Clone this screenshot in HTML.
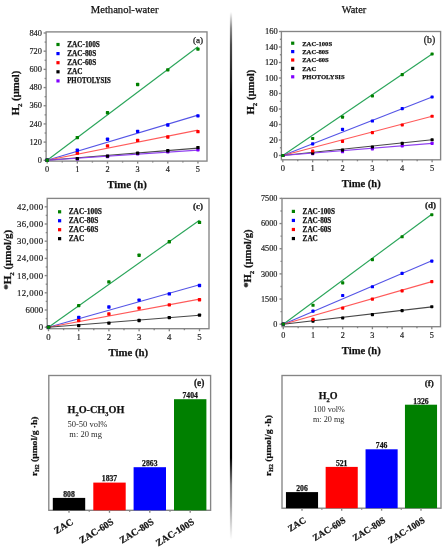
<!DOCTYPE html>
<html><head><meta charset="utf-8"><title>Figure</title>
<style>html,body{margin:0;padding:0;background:#fff;}body{width:447px;height:550px;overflow:hidden;}svg{display:block;filter:blur(0.45px);}text{font-family:"Liberation Serif",serif;stroke:#1a1a1a;stroke-width:0.25px;}</style>
</head><body>
<svg width="447" height="550" viewBox="0 0 447 550">
<defs><linearGradient id="vg" x1="0" y1="0" x2="0" y2="1"><stop offset="0" stop-color="#000" stop-opacity="0"/><stop offset="0.03" stop-color="#000" stop-opacity="0.45"/><stop offset="0.062" stop-color="#000" stop-opacity="0.7"/><stop offset="0.165" stop-color="#000" stop-opacity="1"/><stop offset="0.838" stop-color="#000" stop-opacity="1"/><stop offset="0.889" stop-color="#000" stop-opacity="0.5"/><stop offset="0.929" stop-color="#000" stop-opacity="0.35"/><stop offset="0.992" stop-color="#000" stop-opacity="0"/></linearGradient></defs>
<rect width="447" height="550" fill="#fff"/>
<text x="124.6" y="13.4" font-size="10.6" text-anchor="middle" fill="#111">Methanol-water</text>
<text x="354" y="12.9" font-size="10.4" text-anchor="middle" fill="#111">Water</text>
<rect x="229.9" y="12" width="2.2" height="532" fill="url(#vg)"/>
<rect x="46.1" y="31.9" width="160.9" height="129.2" fill="none" stroke="#858585" stroke-width="1.35"/>
<line x1="47.2" y1="161.1" x2="47.2" y2="163.6" stroke="#858585" stroke-width="1.35" />
<text x="47.2" y="172.3" font-size="8.3" text-anchor="middle" fill="#222" style="stroke-width:0.18px">0</text>
<line x1="62.28" y1="161.1" x2="62.28" y2="162.6" stroke="#858585" stroke-width="1.35" />
<line x1="77.35" y1="161.1" x2="77.35" y2="163.6" stroke="#858585" stroke-width="1.35" />
<text x="77.35" y="172.3" font-size="8.3" text-anchor="middle" fill="#222" style="stroke-width:0.18px">1</text>
<line x1="92.42" y1="161.1" x2="92.42" y2="162.6" stroke="#858585" stroke-width="1.35" />
<line x1="107.5" y1="161.1" x2="107.5" y2="163.6" stroke="#858585" stroke-width="1.35" />
<text x="107.5" y="172.3" font-size="8.3" text-anchor="middle" fill="#222" style="stroke-width:0.18px">2</text>
<line x1="122.58" y1="161.1" x2="122.58" y2="162.6" stroke="#858585" stroke-width="1.35" />
<line x1="137.65" y1="161.1" x2="137.65" y2="163.6" stroke="#858585" stroke-width="1.35" />
<text x="137.65" y="172.3" font-size="8.3" text-anchor="middle" fill="#222" style="stroke-width:0.18px">3</text>
<line x1="152.72" y1="161.1" x2="152.72" y2="162.6" stroke="#858585" stroke-width="1.35" />
<line x1="167.8" y1="161.1" x2="167.8" y2="163.6" stroke="#858585" stroke-width="1.35" />
<text x="167.8" y="172.3" font-size="8.3" text-anchor="middle" fill="#222" style="stroke-width:0.18px">4</text>
<line x1="182.88" y1="161.1" x2="182.88" y2="162.6" stroke="#858585" stroke-width="1.35" />
<line x1="197.95" y1="161.1" x2="197.95" y2="163.6" stroke="#858585" stroke-width="1.35" />
<text x="197.95" y="172.3" font-size="8.3" text-anchor="middle" fill="#222" style="stroke-width:0.18px">5</text>
<line x1="43.6" y1="160.3" x2="46.1" y2="160.3" stroke="#858585" stroke-width="1.35" />
<text x="41.9" y="163.04" font-size="8.3" text-anchor="end" fill="#222"  style="stroke-width:0.18px">0</text>
<line x1="43.6" y1="142.11" x2="46.1" y2="142.11" stroke="#858585" stroke-width="1.35" />
<text x="41.9" y="144.85" font-size="8.3" text-anchor="end" fill="#222"  style="stroke-width:0.18px">120</text>
<line x1="43.6" y1="123.93" x2="46.1" y2="123.93" stroke="#858585" stroke-width="1.35" />
<text x="41.9" y="126.67" font-size="8.3" text-anchor="end" fill="#222"  style="stroke-width:0.18px">240</text>
<line x1="43.6" y1="105.74" x2="46.1" y2="105.74" stroke="#858585" stroke-width="1.35" />
<text x="41.9" y="108.48" font-size="8.3" text-anchor="end" fill="#222"  style="stroke-width:0.18px">360</text>
<line x1="43.6" y1="87.56" x2="46.1" y2="87.56" stroke="#858585" stroke-width="1.35" />
<text x="41.9" y="90.3" font-size="8.3" text-anchor="end" fill="#222"  style="stroke-width:0.18px">480</text>
<line x1="43.6" y1="69.37" x2="46.1" y2="69.37" stroke="#858585" stroke-width="1.35" />
<text x="41.9" y="72.11" font-size="8.3" text-anchor="end" fill="#222"  style="stroke-width:0.18px">600</text>
<line x1="43.6" y1="51.18" x2="46.1" y2="51.18" stroke="#858585" stroke-width="1.35" />
<text x="41.9" y="53.92" font-size="8.3" text-anchor="end" fill="#222"  style="stroke-width:0.18px">720</text>
<line x1="43.6" y1="33" x2="46.1" y2="33" stroke="#858585" stroke-width="1.35" />
<text x="41.9" y="35.74" font-size="8.3" text-anchor="end" fill="#222"  style="stroke-width:0.18px">840</text>
<line x1="44.6" y1="151.21" x2="46.1" y2="151.21" stroke="#858585" stroke-width="1.35" />
<line x1="44.6" y1="133.02" x2="46.1" y2="133.02" stroke="#858585" stroke-width="1.35" />
<line x1="44.6" y1="114.84" x2="46.1" y2="114.84" stroke="#858585" stroke-width="1.35" />
<line x1="44.6" y1="96.65" x2="46.1" y2="96.65" stroke="#858585" stroke-width="1.35" />
<line x1="44.6" y1="78.46" x2="46.1" y2="78.46" stroke="#858585" stroke-width="1.35" />
<line x1="44.6" y1="60.28" x2="46.1" y2="60.28" stroke="#858585" stroke-width="1.35" />
<line x1="44.6" y1="42.09" x2="46.1" y2="42.09" stroke="#858585" stroke-width="1.35" />
<line x1="47.2" y1="160.3" x2="197.95" y2="46.79" stroke="#2aa55a" stroke-width="1.15" />
<line x1="47.2" y1="160.3" x2="197.95" y2="115.14" stroke="#5555e6" stroke-width="1.15" />
<line x1="47.2" y1="160.3" x2="197.95" y2="130.14" stroke="#ff5a5a" stroke-width="1.15" />
<line x1="47.2" y1="160.3" x2="197.95" y2="148.18" stroke="#484848" stroke-width="1.15" />
<line x1="47.2" y1="160.3" x2="197.95" y2="150.15" stroke="#9040f0" stroke-width="1.15" />
<rect x="45.53" y="158.62" width="3.35" height="3.35" fill="#8000ff" rx="0.7"/>
<rect x="75.67" y="157.26" width="3.35" height="3.35" fill="#8000ff" rx="0.7"/>
<rect x="105.83" y="154.84" width="3.35" height="3.35" fill="#8000ff" rx="0.7"/>
<rect x="135.97" y="152.11" width="3.35" height="3.35" fill="#8000ff" rx="0.7"/>
<rect x="166.12" y="150.14" width="3.35" height="3.35" fill="#8000ff" rx="0.7"/>
<rect x="196.27" y="148.17" width="3.35" height="3.35" fill="#8000ff" rx="0.7"/>
<rect x="45.53" y="158.62" width="3.35" height="3.35" fill="#000000" rx="0.7"/>
<rect x="75.67" y="156.96" width="3.35" height="3.35" fill="#000000" rx="0.7"/>
<rect x="105.83" y="154.38" width="3.35" height="3.35" fill="#000000" rx="0.7"/>
<rect x="135.97" y="151.5" width="3.35" height="3.35" fill="#000000" rx="0.7"/>
<rect x="166.12" y="149.08" width="3.35" height="3.35" fill="#000000" rx="0.7"/>
<rect x="196.27" y="145.89" width="3.35" height="3.35" fill="#000000" rx="0.7"/>
<rect x="45.53" y="158.62" width="3.35" height="3.35" fill="#ff0000" rx="0.7"/>
<rect x="75.67" y="151.5" width="3.35" height="3.35" fill="#ff0000" rx="0.7"/>
<rect x="105.83" y="144.23" width="3.35" height="3.35" fill="#ff0000" rx="0.7"/>
<rect x="135.97" y="138.77" width="3.35" height="3.35" fill="#ff0000" rx="0.7"/>
<rect x="166.12" y="135.29" width="3.35" height="3.35" fill="#ff0000" rx="0.7"/>
<rect x="196.27" y="129.98" width="3.35" height="3.35" fill="#ff0000" rx="0.7"/>
<rect x="45.53" y="158.62" width="3.35" height="3.35" fill="#0000ff" rx="0.7"/>
<rect x="75.67" y="148.62" width="3.35" height="3.35" fill="#0000ff" rx="0.7"/>
<rect x="105.83" y="137.56" width="3.35" height="3.35" fill="#0000ff" rx="0.7"/>
<rect x="135.97" y="129.68" width="3.35" height="3.35" fill="#0000ff" rx="0.7"/>
<rect x="166.12" y="123.31" width="3.35" height="3.35" fill="#0000ff" rx="0.7"/>
<rect x="196.27" y="114.22" width="3.35" height="3.35" fill="#0000ff" rx="0.7"/>
<rect x="45.53" y="158.62" width="3.35" height="3.35" fill="#008000" rx="0.7"/>
<rect x="75.67" y="135.89" width="3.35" height="3.35" fill="#008000" rx="0.7"/>
<rect x="105.83" y="111.04" width="3.35" height="3.35" fill="#008000" rx="0.7"/>
<rect x="135.97" y="82.85" width="3.35" height="3.35" fill="#008000" rx="0.7"/>
<rect x="166.12" y="68.15" width="3.35" height="3.35" fill="#008000" rx="0.7"/>
<rect x="196.27" y="47.39" width="3.35" height="3.35" fill="#008000" rx="0.7"/>
<rect x="56.4" y="42.9" width="3.2" height="3.2" fill="#008000" />
<text x="67.2" y="47.04" font-size="7.25" font-weight="bold" text-anchor="start" fill="#111" >ZAC-100S</text>
<rect x="56.4" y="52" width="3.2" height="3.2" fill="#0000ff" />
<text x="67.2" y="56.14" font-size="7.25" font-weight="bold" text-anchor="start" fill="#111" >ZAC-80S</text>
<rect x="56.4" y="61.1" width="3.2" height="3.2" fill="#ff0000" />
<text x="67.2" y="65.24" font-size="7.25" font-weight="bold" text-anchor="start" fill="#111" >ZAC-60S</text>
<rect x="56.4" y="70.2" width="3.2" height="3.2" fill="#000000" />
<text x="67.2" y="74.34" font-size="7.25" font-weight="bold" text-anchor="start" fill="#111" >ZAC</text>
<rect x="56.4" y="79.3" width="3.2" height="3.2" fill="#8000ff" />
<text x="67.2" y="83.44" font-size="7.25" font-weight="bold" text-anchor="start" fill="#111" textLength="43.6" lengthAdjust="spacingAndGlyphs">PHOTOLYSIS</text>
<text x="198.1" y="42.89" font-size="9.2" text-anchor="middle" fill="#111" >(a)</text>
<text x="127" y="188.3" font-size="10.8" font-weight="bold" text-anchor="middle" fill="#111" >Time (h)</text>
<text transform="translate(19,93) rotate(-90)" font-size="10.2" font-weight="bold" text-anchor="middle" fill="#111" textLength="44.5" lengthAdjust="spacingAndGlyphs">H<tspan font-size="6.6" dy="2.8">2</tspan><tspan dy="-2.8"> (μmol)</tspan></text>
<rect x="281.4" y="31.5" width="159.2" height="128.3" fill="none" stroke="#858585" stroke-width="1.35"/>
<line x1="282.8" y1="159.8" x2="282.8" y2="162.3" stroke="#858585" stroke-width="1.35" />
<text x="282.8" y="171.2" font-size="8.5" text-anchor="middle" fill="#222" style="stroke-width:0.18px">0</text>
<line x1="297.73" y1="159.8" x2="297.73" y2="161.3" stroke="#858585" stroke-width="1.35" />
<line x1="312.66" y1="159.8" x2="312.66" y2="162.3" stroke="#858585" stroke-width="1.35" />
<text x="312.66" y="171.2" font-size="8.5" text-anchor="middle" fill="#222" style="stroke-width:0.18px">1</text>
<line x1="327.59" y1="159.8" x2="327.59" y2="161.3" stroke="#858585" stroke-width="1.35" />
<line x1="342.52" y1="159.8" x2="342.52" y2="162.3" stroke="#858585" stroke-width="1.35" />
<text x="342.52" y="171.2" font-size="8.5" text-anchor="middle" fill="#222" style="stroke-width:0.18px">2</text>
<line x1="357.45" y1="159.8" x2="357.45" y2="161.3" stroke="#858585" stroke-width="1.35" />
<line x1="372.38" y1="159.8" x2="372.38" y2="162.3" stroke="#858585" stroke-width="1.35" />
<text x="372.38" y="171.2" font-size="8.5" text-anchor="middle" fill="#222" style="stroke-width:0.18px">3</text>
<line x1="387.31" y1="159.8" x2="387.31" y2="161.3" stroke="#858585" stroke-width="1.35" />
<line x1="402.24" y1="159.8" x2="402.24" y2="162.3" stroke="#858585" stroke-width="1.35" />
<text x="402.24" y="171.2" font-size="8.5" text-anchor="middle" fill="#222" style="stroke-width:0.18px">4</text>
<line x1="417.17" y1="159.8" x2="417.17" y2="161.3" stroke="#858585" stroke-width="1.35" />
<line x1="432.1" y1="159.8" x2="432.1" y2="162.3" stroke="#858585" stroke-width="1.35" />
<text x="432.1" y="171.2" font-size="8.5" text-anchor="middle" fill="#222" style="stroke-width:0.18px">5</text>
<line x1="278.9" y1="155.5" x2="281.4" y2="155.5" stroke="#858585" stroke-width="1.35" />
<text x="277.7" y="158.31" font-size="8.5" text-anchor="end" fill="#222"  style="stroke-width:0.18px">0</text>
<line x1="278.9" y1="140" x2="281.4" y2="140" stroke="#858585" stroke-width="1.35" />
<text x="277.7" y="142.81" font-size="8.5" text-anchor="end" fill="#222"  style="stroke-width:0.18px">20</text>
<line x1="278.9" y1="124.5" x2="281.4" y2="124.5" stroke="#858585" stroke-width="1.35" />
<text x="277.7" y="127.31" font-size="8.5" text-anchor="end" fill="#222"  style="stroke-width:0.18px">40</text>
<line x1="278.9" y1="109" x2="281.4" y2="109" stroke="#858585" stroke-width="1.35" />
<text x="277.7" y="111.81" font-size="8.5" text-anchor="end" fill="#222"  style="stroke-width:0.18px">60</text>
<line x1="278.9" y1="93.5" x2="281.4" y2="93.5" stroke="#858585" stroke-width="1.35" />
<text x="277.7" y="96.31" font-size="8.5" text-anchor="end" fill="#222"  style="stroke-width:0.18px">80</text>
<line x1="278.9" y1="78" x2="281.4" y2="78" stroke="#858585" stroke-width="1.35" />
<text x="277.7" y="80.81" font-size="8.5" text-anchor="end" fill="#222"  style="stroke-width:0.18px">100</text>
<line x1="278.9" y1="62.5" x2="281.4" y2="62.5" stroke="#858585" stroke-width="1.35" />
<text x="277.7" y="65.31" font-size="8.5" text-anchor="end" fill="#222"  style="stroke-width:0.18px">120</text>
<line x1="278.9" y1="47" x2="281.4" y2="47" stroke="#858585" stroke-width="1.35" />
<text x="277.7" y="49.8" font-size="8.5" text-anchor="end" fill="#222"  style="stroke-width:0.18px">140</text>
<line x1="278.9" y1="31.5" x2="281.4" y2="31.5" stroke="#858585" stroke-width="1.35" />
<text x="277.7" y="34.3" font-size="8.5" text-anchor="end" fill="#222"  style="stroke-width:0.18px">160</text>
<line x1="279.9" y1="147.75" x2="281.4" y2="147.75" stroke="#858585" stroke-width="1.35" />
<line x1="279.9" y1="132.25" x2="281.4" y2="132.25" stroke="#858585" stroke-width="1.35" />
<line x1="279.9" y1="116.75" x2="281.4" y2="116.75" stroke="#858585" stroke-width="1.35" />
<line x1="279.9" y1="101.25" x2="281.4" y2="101.25" stroke="#858585" stroke-width="1.35" />
<line x1="279.9" y1="85.75" x2="281.4" y2="85.75" stroke="#858585" stroke-width="1.35" />
<line x1="279.9" y1="70.25" x2="281.4" y2="70.25" stroke="#858585" stroke-width="1.35" />
<line x1="279.9" y1="54.75" x2="281.4" y2="54.75" stroke="#858585" stroke-width="1.35" />
<line x1="279.9" y1="39.25" x2="281.4" y2="39.25" stroke="#858585" stroke-width="1.35" />
<line x1="282.8" y1="155.5" x2="432.1" y2="53.97" stroke="#2aa55a" stroke-width="1.15" />
<line x1="282.8" y1="155.5" x2="432.1" y2="96.99" stroke="#5555e6" stroke-width="1.15" />
<line x1="282.8" y1="155.5" x2="432.1" y2="116.28" stroke="#ff5a5a" stroke-width="1.15" />
<line x1="282.8" y1="155.5" x2="432.1" y2="139.77" stroke="#484848" stroke-width="1.15" />
<line x1="282.8" y1="155.5" x2="432.1" y2="143.41" stroke="#9040f0" stroke-width="1.15" />
<rect x="281.23" y="153.93" width="3.15" height="3.15" fill="#8000ff" rx="0.7"/>
<rect x="311.09" y="151.99" width="3.15" height="3.15" fill="#8000ff" rx="0.7"/>
<rect x="340.94" y="150.21" width="3.15" height="3.15" fill="#8000ff" rx="0.7"/>
<rect x="370.81" y="147.34" width="3.15" height="3.15" fill="#8000ff" rx="0.7"/>
<rect x="400.67" y="144.39" width="3.15" height="3.15" fill="#8000ff" rx="0.7"/>
<rect x="430.53" y="141.84" width="3.15" height="3.15" fill="#8000ff" rx="0.7"/>
<rect x="281.23" y="153.93" width="3.15" height="3.15" fill="#000000" rx="0.7"/>
<rect x="311.09" y="151.6" width="3.15" height="3.15" fill="#000000" rx="0.7"/>
<rect x="340.94" y="148.5" width="3.15" height="3.15" fill="#000000" rx="0.7"/>
<rect x="370.81" y="145.4" width="3.15" height="3.15" fill="#000000" rx="0.7"/>
<rect x="400.67" y="141.84" width="3.15" height="3.15" fill="#000000" rx="0.7"/>
<rect x="430.53" y="138.19" width="3.15" height="3.15" fill="#000000" rx="0.7"/>
<rect x="281.23" y="153.93" width="3.15" height="3.15" fill="#ff0000" rx="0.7"/>
<rect x="311.09" y="149.43" width="3.15" height="3.15" fill="#ff0000" rx="0.7"/>
<rect x="340.94" y="139.74" width="3.15" height="3.15" fill="#ff0000" rx="0.7"/>
<rect x="370.81" y="131.06" width="3.15" height="3.15" fill="#ff0000" rx="0.7"/>
<rect x="400.67" y="123.39" width="3.15" height="3.15" fill="#ff0000" rx="0.7"/>
<rect x="430.53" y="114.71" width="3.15" height="3.15" fill="#ff0000" rx="0.7"/>
<rect x="281.23" y="153.93" width="3.15" height="3.15" fill="#0000ff" rx="0.7"/>
<rect x="311.09" y="142.3" width="3.15" height="3.15" fill="#0000ff" rx="0.7"/>
<rect x="340.94" y="127.73" width="3.15" height="3.15" fill="#0000ff" rx="0.7"/>
<rect x="370.81" y="119.44" width="3.15" height="3.15" fill="#0000ff" rx="0.7"/>
<rect x="400.67" y="107.11" width="3.15" height="3.15" fill="#0000ff" rx="0.7"/>
<rect x="430.53" y="95.41" width="3.15" height="3.15" fill="#0000ff" rx="0.7"/>
<rect x="281.23" y="153.93" width="3.15" height="3.15" fill="#008000" rx="0.7"/>
<rect x="311.09" y="136.88" width="3.15" height="3.15" fill="#008000" rx="0.7"/>
<rect x="340.94" y="115.56" width="3.15" height="3.15" fill="#008000" rx="0.7"/>
<rect x="370.81" y="94.41" width="3.15" height="3.15" fill="#008000" rx="0.7"/>
<rect x="400.67" y="73.01" width="3.15" height="3.15" fill="#008000" rx="0.7"/>
<rect x="430.53" y="52.4" width="3.15" height="3.15" fill="#008000" rx="0.7"/>
<rect x="291.1" y="41.6" width="3.2" height="3.2" fill="#008000" />
<text x="302.2" y="45.53" font-size="6.65" font-weight="bold" text-anchor="start" fill="#111" >ZAC-100S</text>
<rect x="291.1" y="50" width="3.2" height="3.2" fill="#0000ff" />
<text x="302.2" y="53.93" font-size="6.65" font-weight="bold" text-anchor="start" fill="#111" >ZAC-80S</text>
<rect x="291.1" y="58.4" width="3.2" height="3.2" fill="#ff0000" />
<text x="302.2" y="62.33" font-size="6.65" font-weight="bold" text-anchor="start" fill="#111" >ZAC-60S</text>
<rect x="291.1" y="66.8" width="3.2" height="3.2" fill="#000000" />
<text x="302.2" y="70.73" font-size="6.65" font-weight="bold" text-anchor="start" fill="#111" >ZAC</text>
<rect x="291.1" y="75.2" width="3.2" height="3.2" fill="#8000ff" />
<text x="302.2" y="79.13" font-size="6.65" font-weight="bold" text-anchor="start" fill="#111" >PHOTOLYSIS</text>
<text x="429.5" y="43.32" font-size="9.7" text-anchor="middle" fill="#111" >(b)</text>
<text x="361.3" y="187.2" font-size="10.6" font-weight="bold" text-anchor="middle" fill="#111" >Time (h)</text>
<text transform="translate(253.8,92.1) rotate(-90)" font-size="10.2" font-weight="bold" text-anchor="middle" fill="#111" textLength="45" lengthAdjust="spacingAndGlyphs">H<tspan font-size="6.6" dy="2.8">2</tspan><tspan dy="-2.8"> (μmol)</tspan></text>
<rect x="47.2" y="198.4" width="161.8" height="130.3" fill="none" stroke="#858585" stroke-width="1.35"/>
<line x1="48.5" y1="328.7" x2="48.5" y2="331.2" stroke="#858585" stroke-width="1.35" />
<text x="48.5" y="340.2" font-size="8.8" text-anchor="middle" fill="#222" style="stroke-width:0.18px">0</text>
<line x1="63.6" y1="328.7" x2="63.6" y2="330.2" stroke="#858585" stroke-width="1.35" />
<line x1="78.7" y1="328.7" x2="78.7" y2="331.2" stroke="#858585" stroke-width="1.35" />
<text x="78.7" y="340.2" font-size="8.8" text-anchor="middle" fill="#222" style="stroke-width:0.18px">1</text>
<line x1="93.8" y1="328.7" x2="93.8" y2="330.2" stroke="#858585" stroke-width="1.35" />
<line x1="108.9" y1="328.7" x2="108.9" y2="331.2" stroke="#858585" stroke-width="1.35" />
<text x="108.9" y="340.2" font-size="8.8" text-anchor="middle" fill="#222" style="stroke-width:0.18px">2</text>
<line x1="124" y1="328.7" x2="124" y2="330.2" stroke="#858585" stroke-width="1.35" />
<line x1="139.1" y1="328.7" x2="139.1" y2="331.2" stroke="#858585" stroke-width="1.35" />
<text x="139.1" y="340.2" font-size="8.8" text-anchor="middle" fill="#222" style="stroke-width:0.18px">3</text>
<line x1="154.2" y1="328.7" x2="154.2" y2="330.2" stroke="#858585" stroke-width="1.35" />
<line x1="169.3" y1="328.7" x2="169.3" y2="331.2" stroke="#858585" stroke-width="1.35" />
<text x="169.3" y="340.2" font-size="8.8" text-anchor="middle" fill="#222" style="stroke-width:0.18px">4</text>
<line x1="184.4" y1="328.7" x2="184.4" y2="330.2" stroke="#858585" stroke-width="1.35" />
<line x1="199.5" y1="328.7" x2="199.5" y2="331.2" stroke="#858585" stroke-width="1.35" />
<text x="199.5" y="340.2" font-size="8.8" text-anchor="middle" fill="#222" style="stroke-width:0.18px">5</text>
<line x1="44.7" y1="327.2" x2="47.2" y2="327.2" stroke="#858585" stroke-width="1.35" />
<text x="43.1" y="330.1" font-size="8.8" text-anchor="end" fill="#222"  style="stroke-width:0.18px">0</text>
<line x1="44.7" y1="310" x2="47.2" y2="310" stroke="#858585" stroke-width="1.35" />
<text x="43.1" y="312.9" font-size="8.8" text-anchor="end" fill="#222"  style="stroke-width:0.18px">6000</text>
<line x1="44.7" y1="292.8" x2="47.2" y2="292.8" stroke="#858585" stroke-width="1.35" />
<text x="43.1" y="295.7" font-size="8.8" text-anchor="end" fill="#222"  textLength="26" lengthAdjust="spacing" style="stroke-width:0.18px">12,000</text>
<line x1="44.7" y1="275.59" x2="47.2" y2="275.59" stroke="#858585" stroke-width="1.35" />
<text x="43.1" y="278.5" font-size="8.8" text-anchor="end" fill="#222"  textLength="26" lengthAdjust="spacing" style="stroke-width:0.18px">18,000</text>
<line x1="44.7" y1="258.39" x2="47.2" y2="258.39" stroke="#858585" stroke-width="1.35" />
<text x="43.1" y="261.3" font-size="8.8" text-anchor="end" fill="#222"  textLength="26" lengthAdjust="spacing" style="stroke-width:0.18px">24,000</text>
<line x1="44.7" y1="241.19" x2="47.2" y2="241.19" stroke="#858585" stroke-width="1.35" />
<text x="43.1" y="244.09" font-size="8.8" text-anchor="end" fill="#222"  textLength="26" lengthAdjust="spacing" style="stroke-width:0.18px">30,000</text>
<line x1="44.7" y1="223.99" x2="47.2" y2="223.99" stroke="#858585" stroke-width="1.35" />
<text x="43.1" y="226.89" font-size="8.8" text-anchor="end" fill="#222"  textLength="26" lengthAdjust="spacing" style="stroke-width:0.18px">36,000</text>
<line x1="44.7" y1="206.79" x2="47.2" y2="206.79" stroke="#858585" stroke-width="1.35" />
<text x="43.1" y="209.69" font-size="8.8" text-anchor="end" fill="#222"  textLength="26" lengthAdjust="spacing" style="stroke-width:0.18px">42,000</text>
<line x1="45.7" y1="318.6" x2="47.2" y2="318.6" stroke="#858585" stroke-width="1.35" />
<line x1="45.7" y1="301.4" x2="47.2" y2="301.4" stroke="#858585" stroke-width="1.35" />
<line x1="45.7" y1="284.19" x2="47.2" y2="284.19" stroke="#858585" stroke-width="1.35" />
<line x1="45.7" y1="266.99" x2="47.2" y2="266.99" stroke="#858585" stroke-width="1.35" />
<line x1="45.7" y1="249.79" x2="47.2" y2="249.79" stroke="#858585" stroke-width="1.35" />
<line x1="45.7" y1="232.59" x2="47.2" y2="232.59" stroke="#858585" stroke-width="1.35" />
<line x1="45.7" y1="215.39" x2="47.2" y2="215.39" stroke="#858585" stroke-width="1.35" />
<line x1="48.5" y1="327.2" x2="199.5" y2="220.17" stroke="#2aa55a" stroke-width="1.15" />
<line x1="48.5" y1="327.2" x2="199.5" y2="284.77" stroke="#5555e6" stroke-width="1.15" />
<line x1="48.5" y1="327.2" x2="199.5" y2="299.1" stroke="#ff5a5a" stroke-width="1.15" />
<line x1="48.5" y1="327.2" x2="199.5" y2="315.3" stroke="#484848" stroke-width="1.15" />
<rect x="46.83" y="325.52" width="3.35" height="3.35" fill="#000000" rx="0.7"/>
<rect x="77.03" y="323.92" width="3.35" height="3.35" fill="#000000" rx="0.7"/>
<rect x="107.23" y="321.43" width="3.35" height="3.35" fill="#000000" rx="0.7"/>
<rect x="137.42" y="318.82" width="3.35" height="3.35" fill="#000000" rx="0.7"/>
<rect x="167.62" y="315.92" width="3.35" height="3.35" fill="#000000" rx="0.7"/>
<rect x="197.82" y="313.43" width="3.35" height="3.35" fill="#000000" rx="0.7"/>
<rect x="46.83" y="325.52" width="3.35" height="3.35" fill="#ff0000" rx="0.7"/>
<rect x="77.03" y="318.82" width="3.35" height="3.35" fill="#ff0000" rx="0.7"/>
<rect x="107.23" y="312.34" width="3.35" height="3.35" fill="#ff0000" rx="0.7"/>
<rect x="137.42" y="306.43" width="3.35" height="3.35" fill="#ff0000" rx="0.7"/>
<rect x="167.62" y="303.22" width="3.35" height="3.35" fill="#ff0000" rx="0.7"/>
<rect x="197.82" y="298.12" width="3.35" height="3.35" fill="#ff0000" rx="0.7"/>
<rect x="46.83" y="325.52" width="3.35" height="3.35" fill="#0000ff" rx="0.7"/>
<rect x="77.03" y="315.63" width="3.35" height="3.35" fill="#0000ff" rx="0.7"/>
<rect x="107.23" y="305.31" width="3.35" height="3.35" fill="#0000ff" rx="0.7"/>
<rect x="137.42" y="298.43" width="3.35" height="3.35" fill="#0000ff" rx="0.7"/>
<rect x="167.62" y="292.24" width="3.35" height="3.35" fill="#0000ff" rx="0.7"/>
<rect x="197.82" y="283.84" width="3.35" height="3.35" fill="#0000ff" rx="0.7"/>
<rect x="46.83" y="325.52" width="3.35" height="3.35" fill="#008000" rx="0.7"/>
<rect x="77.03" y="303.94" width="3.35" height="3.35" fill="#008000" rx="0.7"/>
<rect x="107.23" y="280.23" width="3.35" height="3.35" fill="#008000" rx="0.7"/>
<rect x="137.42" y="253.62" width="3.35" height="3.35" fill="#008000" rx="0.7"/>
<rect x="167.62" y="240.12" width="3.35" height="3.35" fill="#008000" rx="0.7"/>
<rect x="197.82" y="220.74" width="3.35" height="3.35" fill="#008000" rx="0.7"/>
<rect x="58" y="210.2" width="3.2" height="3.2" fill="#008000" />
<text x="68.7" y="214.39" font-size="7.4" font-weight="bold" text-anchor="start" fill="#111" >ZAC-100S</text>
<rect x="58" y="219.15" width="3.2" height="3.2" fill="#0000ff" />
<text x="68.7" y="223.34" font-size="7.4" font-weight="bold" text-anchor="start" fill="#111" >ZAC-80S</text>
<rect x="58" y="228.1" width="3.2" height="3.2" fill="#ff0000" />
<text x="68.7" y="232.29" font-size="7.4" font-weight="bold" text-anchor="start" fill="#111" >ZAC-60S</text>
<rect x="58" y="237.05" width="3.2" height="3.2" fill="#000000" />
<text x="68.7" y="241.24" font-size="7.4" font-weight="bold" text-anchor="start" fill="#111" >ZAC</text>
<text x="198.1" y="209.24" font-size="9.0" font-weight="bold" text-anchor="middle" fill="#111" >(c)</text>
<text x="128.3" y="355.8" font-size="10.8" font-weight="bold" text-anchor="middle" fill="#111" >Time (h)</text>
<text transform="translate(11.2,259.8) rotate(-90)" font-size="10.8" font-weight="bold" text-anchor="middle" fill="#111" textLength="60" lengthAdjust="spacingAndGlyphs">*H<tspan font-size="6.8" dy="2.8">2</tspan><tspan dy="-2.8"> (μmol/g)</tspan></text>
<rect x="282" y="198.4" width="158.5" height="128.3" fill="none" stroke="#858585" stroke-width="1.35"/>
<line x1="283.3" y1="326.7" x2="283.3" y2="329.2" stroke="#858585" stroke-width="1.35" />
<text x="283.3" y="338" font-size="8.2" text-anchor="middle" fill="#222" style="stroke-width:0.18px">0</text>
<line x1="298.15" y1="326.7" x2="298.15" y2="328.2" stroke="#858585" stroke-width="1.35" />
<line x1="313" y1="326.7" x2="313" y2="329.2" stroke="#858585" stroke-width="1.35" />
<text x="313" y="338" font-size="8.2" text-anchor="middle" fill="#222" style="stroke-width:0.18px">1</text>
<line x1="327.85" y1="326.7" x2="327.85" y2="328.2" stroke="#858585" stroke-width="1.35" />
<line x1="342.7" y1="326.7" x2="342.7" y2="329.2" stroke="#858585" stroke-width="1.35" />
<text x="342.7" y="338" font-size="8.2" text-anchor="middle" fill="#222" style="stroke-width:0.18px">2</text>
<line x1="357.55" y1="326.7" x2="357.55" y2="328.2" stroke="#858585" stroke-width="1.35" />
<line x1="372.4" y1="326.7" x2="372.4" y2="329.2" stroke="#858585" stroke-width="1.35" />
<text x="372.4" y="338" font-size="8.2" text-anchor="middle" fill="#222" style="stroke-width:0.18px">3</text>
<line x1="387.25" y1="326.7" x2="387.25" y2="328.2" stroke="#858585" stroke-width="1.35" />
<line x1="402.1" y1="326.7" x2="402.1" y2="329.2" stroke="#858585" stroke-width="1.35" />
<text x="402.1" y="338" font-size="8.2" text-anchor="middle" fill="#222" style="stroke-width:0.18px">4</text>
<line x1="416.95" y1="326.7" x2="416.95" y2="328.2" stroke="#858585" stroke-width="1.35" />
<line x1="431.8" y1="326.7" x2="431.8" y2="329.2" stroke="#858585" stroke-width="1.35" />
<text x="431.8" y="338" font-size="8.2" text-anchor="middle" fill="#222" style="stroke-width:0.18px">5</text>
<line x1="279.5" y1="324.2" x2="282" y2="324.2" stroke="#858585" stroke-width="1.35" />
<text x="277.4" y="326.91" font-size="8.2" text-anchor="end" fill="#222"  style="stroke-width:0.18px">0</text>
<line x1="279.5" y1="299.04" x2="282" y2="299.04" stroke="#858585" stroke-width="1.35" />
<text x="277.4" y="301.75" font-size="8.2" text-anchor="end" fill="#222"  style="stroke-width:0.18px">1500</text>
<line x1="279.5" y1="273.88" x2="282" y2="273.88" stroke="#858585" stroke-width="1.35" />
<text x="277.4" y="276.59" font-size="8.2" text-anchor="end" fill="#222"  style="stroke-width:0.18px">3000</text>
<line x1="279.5" y1="248.72" x2="282" y2="248.72" stroke="#858585" stroke-width="1.35" />
<text x="277.4" y="251.43" font-size="8.2" text-anchor="end" fill="#222"  style="stroke-width:0.18px">4500</text>
<line x1="279.5" y1="223.56" x2="282" y2="223.56" stroke="#858585" stroke-width="1.35" />
<text x="277.4" y="226.27" font-size="8.2" text-anchor="end" fill="#222"  style="stroke-width:0.18px">6000</text>
<line x1="279.5" y1="198.4" x2="282" y2="198.4" stroke="#858585" stroke-width="1.35" />
<text x="277.4" y="201.11" font-size="8.2" text-anchor="end" fill="#222"  style="stroke-width:0.18px">7500</text>
<line x1="280.5" y1="311.62" x2="282" y2="311.62" stroke="#858585" stroke-width="1.35" />
<line x1="280.5" y1="286.46" x2="282" y2="286.46" stroke="#858585" stroke-width="1.35" />
<line x1="280.5" y1="261.3" x2="282" y2="261.3" stroke="#858585" stroke-width="1.35" />
<line x1="280.5" y1="236.14" x2="282" y2="236.14" stroke="#858585" stroke-width="1.35" />
<line x1="280.5" y1="210.98" x2="282" y2="210.98" stroke="#858585" stroke-width="1.35" />
<line x1="283.3" y1="324.2" x2="431.8" y2="214.17" stroke="#2aa55a" stroke-width="1.15" />
<line x1="283.3" y1="324.2" x2="431.8" y2="260.8" stroke="#5555e6" stroke-width="1.15" />
<line x1="283.3" y1="324.2" x2="431.8" y2="281.6" stroke="#ff5a5a" stroke-width="1.15" />
<line x1="283.3" y1="324.2" x2="431.8" y2="306.92" stroke="#484848" stroke-width="1.15" />
<rect x="281.73" y="322.62" width="3.15" height="3.15" fill="#000000" rx="0.7"/>
<rect x="311.43" y="319.62" width="3.15" height="3.15" fill="#000000" rx="0.7"/>
<rect x="341.12" y="316.42" width="3.15" height="3.15" fill="#000000" rx="0.7"/>
<rect x="370.82" y="313.11" width="3.15" height="3.15" fill="#000000" rx="0.7"/>
<rect x="400.53" y="309.12" width="3.15" height="3.15" fill="#000000" rx="0.7"/>
<rect x="430.23" y="305.13" width="3.15" height="3.15" fill="#000000" rx="0.7"/>
<rect x="281.73" y="322.62" width="3.15" height="3.15" fill="#ff0000" rx="0.7"/>
<rect x="311.43" y="317.83" width="3.15" height="3.15" fill="#ff0000" rx="0.7"/>
<rect x="341.12" y="306.62" width="3.15" height="3.15" fill="#ff0000" rx="0.7"/>
<rect x="370.82" y="297.53" width="3.15" height="3.15" fill="#ff0000" rx="0.7"/>
<rect x="400.53" y="289.23" width="3.15" height="3.15" fill="#ff0000" rx="0.7"/>
<rect x="430.23" y="280.12" width="3.15" height="3.15" fill="#ff0000" rx="0.7"/>
<rect x="281.73" y="322.62" width="3.15" height="3.15" fill="#0000ff" rx="0.7"/>
<rect x="311.43" y="309.53" width="3.15" height="3.15" fill="#0000ff" rx="0.7"/>
<rect x="341.12" y="293.93" width="3.15" height="3.15" fill="#0000ff" rx="0.7"/>
<rect x="370.82" y="285.22" width="3.15" height="3.15" fill="#0000ff" rx="0.7"/>
<rect x="400.53" y="271.82" width="3.15" height="3.15" fill="#0000ff" rx="0.7"/>
<rect x="430.23" y="259.52" width="3.15" height="3.15" fill="#0000ff" rx="0.7"/>
<rect x="281.73" y="322.62" width="3.15" height="3.15" fill="#008000" rx="0.7"/>
<rect x="311.43" y="303.72" width="3.15" height="3.15" fill="#008000" rx="0.7"/>
<rect x="341.12" y="281.23" width="3.15" height="3.15" fill="#008000" rx="0.7"/>
<rect x="370.82" y="258.03" width="3.15" height="3.15" fill="#008000" rx="0.7"/>
<rect x="400.53" y="235.22" width="3.15" height="3.15" fill="#008000" rx="0.7"/>
<rect x="430.23" y="213.13" width="3.15" height="3.15" fill="#008000" rx="0.7"/>
<rect x="291.8" y="209.8" width="3.2" height="3.2" fill="#008000" />
<text x="302.6" y="213.92" font-size="7.2" font-weight="bold" text-anchor="start" fill="#111" >ZAC-100S</text>
<rect x="291.8" y="218.85" width="3.2" height="3.2" fill="#0000ff" />
<text x="302.6" y="222.97" font-size="7.2" font-weight="bold" text-anchor="start" fill="#111" >ZAC-80S</text>
<rect x="291.8" y="227.9" width="3.2" height="3.2" fill="#ff0000" />
<text x="302.6" y="232.02" font-size="7.2" font-weight="bold" text-anchor="start" fill="#111" >ZAC-60S</text>
<rect x="291.8" y="236.95" width="3.2" height="3.2" fill="#000000" />
<text x="302.6" y="241.07" font-size="7.2" font-weight="bold" text-anchor="start" fill="#111" >ZAC</text>
<text x="430.6" y="207.84" font-size="9.0" font-weight="bold" text-anchor="middle" fill="#111" >(d)</text>
<text x="361.3" y="353.6" font-size="10.6" font-weight="bold" text-anchor="middle" fill="#111" >Time (h)</text>
<text transform="translate(251.1,258.6) rotate(-90)" font-size="10.6" font-weight="bold" text-anchor="middle" fill="#111" textLength="58.5" lengthAdjust="spacingAndGlyphs">*H<tspan font-size="6.8" dy="2.8">2</tspan><tspan dy="-2.8"> (μmol/g)</tspan></text>
<rect x="48.8" y="375.5" width="161.8" height="134.8" fill="none" stroke="#858585" stroke-width="1.35"/>
<rect x="52.8" y="497.9" width="32.4" height="12.4" fill="#000000" />
<text x="69" y="496.7" font-size="7.7" font-weight="bold" text-anchor="middle" fill="#111" >808</text>
<line x1="69" y1="510.3" x2="69" y2="512.8" stroke="#858585" stroke-width="1.35" />
<line x1="89.25" y1="510.3" x2="89.25" y2="511.8" stroke="#858585" stroke-width="1.35" />
<text transform="translate(73.8,523.5) rotate(-32)" font-size="9.6" font-weight="bold" text-anchor="end" fill="#111">ZAC</text>
<rect x="93.3" y="482.6" width="32.4" height="27.7" fill="#ff0000" />
<text x="109.5" y="481.4" font-size="7.7" font-weight="bold" text-anchor="middle" fill="#111" >1837</text>
<line x1="109.5" y1="510.3" x2="109.5" y2="512.8" stroke="#858585" stroke-width="1.35" />
<line x1="129.65" y1="510.3" x2="129.65" y2="511.8" stroke="#858585" stroke-width="1.35" />
<text transform="translate(114.3,523.5) rotate(-32)" font-size="9.6" font-weight="bold" text-anchor="end" fill="#111">ZAC-60S</text>
<rect x="133.6" y="467.2" width="32.4" height="43.1" fill="#0000ff" />
<text x="149.8" y="466" font-size="7.7" font-weight="bold" text-anchor="middle" fill="#111" >2863</text>
<line x1="149.8" y1="510.3" x2="149.8" y2="512.8" stroke="#858585" stroke-width="1.35" />
<line x1="170" y1="510.3" x2="170" y2="511.8" stroke="#858585" stroke-width="1.35" />
<text transform="translate(154.6,523.5) rotate(-32)" font-size="9.6" font-weight="bold" text-anchor="end" fill="#111">ZAC-80S</text>
<rect x="174" y="399.2" width="32.4" height="111.1" fill="#008000" />
<text x="190.2" y="398" font-size="7.7" font-weight="bold" text-anchor="middle" fill="#111" >7404</text>
<line x1="190.2" y1="510.3" x2="190.2" y2="512.8" stroke="#858585" stroke-width="1.35" />
<text transform="translate(195,523.5) rotate(-32)" font-size="9.6" font-weight="bold" text-anchor="end" fill="#111">ZAC-100S</text>
<text x="199.2" y="385.94" font-size="9.4" font-weight="bold" text-anchor="middle" fill="#111" >(e)</text>
<text x="67.5" y="413.4" font-size="10.2" font-weight="bold" fill="#111">H<tspan font-size="6.4" dy="2.7">2</tspan><tspan dy="-2.7">O-CH</tspan><tspan font-size="6.4" dy="2.7">3</tspan><tspan dy="-2.7">OH</tspan></text>
<text x="67.5" y="426.5" font-size="8.5" fill="#2a2a2a" style="stroke:none">50-50 vol%</text>
<text x="69.3" y="436.7" font-size="8.5" fill="#2a2a2a" style="stroke:none">m: 20 mg</text>
<text transform="translate(37,446.2) rotate(-90)" font-size="9.2" font-weight="bold" text-anchor="middle" fill="#111" textLength="59.5" lengthAdjust="spacingAndGlyphs">r<tspan font-size="5.52" dy="2">H2</tspan><tspan dy="-2"> (μmol/g ·h)</tspan></text>
<rect x="282" y="375.5" width="159" height="132.7" fill="none" stroke="#858585" stroke-width="1.35"/>
<rect x="285.95" y="492.1" width="32.1" height="16.1" fill="#000000" />
<text x="302" y="490.9" font-size="7.7" font-weight="bold" text-anchor="middle" fill="#111" >206</text>
<line x1="302" y1="508.2" x2="302" y2="510.7" stroke="#858585" stroke-width="1.35" />
<line x1="321.85" y1="508.2" x2="321.85" y2="509.7" stroke="#858585" stroke-width="1.35" />
<text transform="translate(306.6,521.8) rotate(-32)" font-size="9.2" font-weight="bold" text-anchor="end" fill="#111">ZAC</text>
<rect x="325.65" y="466.9" width="32.1" height="41.3" fill="#ff0000" />
<text x="341.7" y="465.7" font-size="7.7" font-weight="bold" text-anchor="middle" fill="#111" >521</text>
<line x1="341.7" y1="508.2" x2="341.7" y2="510.7" stroke="#858585" stroke-width="1.35" />
<line x1="361.65" y1="508.2" x2="361.65" y2="509.7" stroke="#858585" stroke-width="1.35" />
<text transform="translate(346.3,521.8) rotate(-32)" font-size="9.2" font-weight="bold" text-anchor="end" fill="#111">ZAC-60S</text>
<rect x="365.55" y="449.3" width="32.1" height="58.9" fill="#0000ff" />
<text x="381.6" y="448.1" font-size="7.7" font-weight="bold" text-anchor="middle" fill="#111" >746</text>
<line x1="381.6" y1="508.2" x2="381.6" y2="510.7" stroke="#858585" stroke-width="1.35" />
<line x1="401.3" y1="508.2" x2="401.3" y2="509.7" stroke="#858585" stroke-width="1.35" />
<text transform="translate(386.2,521.8) rotate(-32)" font-size="9.2" font-weight="bold" text-anchor="end" fill="#111">ZAC-80S</text>
<rect x="404.95" y="404.7" width="32.1" height="103.5" fill="#008000" />
<text x="421" y="403.5" font-size="7.7" font-weight="bold" text-anchor="middle" fill="#111" >1326</text>
<line x1="421" y1="508.2" x2="421" y2="510.7" stroke="#858585" stroke-width="1.35" />
<text transform="translate(425.6,521.8) rotate(-32)" font-size="9.2" font-weight="bold" text-anchor="end" fill="#111">ZAC-100S</text>
<text x="429.3" y="385.89" font-size="9.2" font-weight="bold" text-anchor="middle" fill="#111" >(f)</text>
<text x="318.7" y="399" font-size="10" font-weight="bold" fill="#111">H<tspan font-size="6.4" dy="2.7">2</tspan><tspan dy="-2.7">O</tspan></text>
<text x="313.3" y="411.5" font-size="8.2" fill="#2a2a2a" style="stroke:none">100 vol%</text>
<text x="313" y="421.9" font-size="8.2" fill="#2a2a2a" style="stroke:none">m: 20 mg</text>
<text transform="translate(271,445.5) rotate(-90)" font-size="9.2" font-weight="bold" text-anchor="middle" fill="#111" textLength="61" lengthAdjust="spacingAndGlyphs">r<tspan font-size="5.52" dy="2">H2</tspan><tspan dy="-2"> (μmol/g ·h)</tspan></text>
</svg></body></html>
